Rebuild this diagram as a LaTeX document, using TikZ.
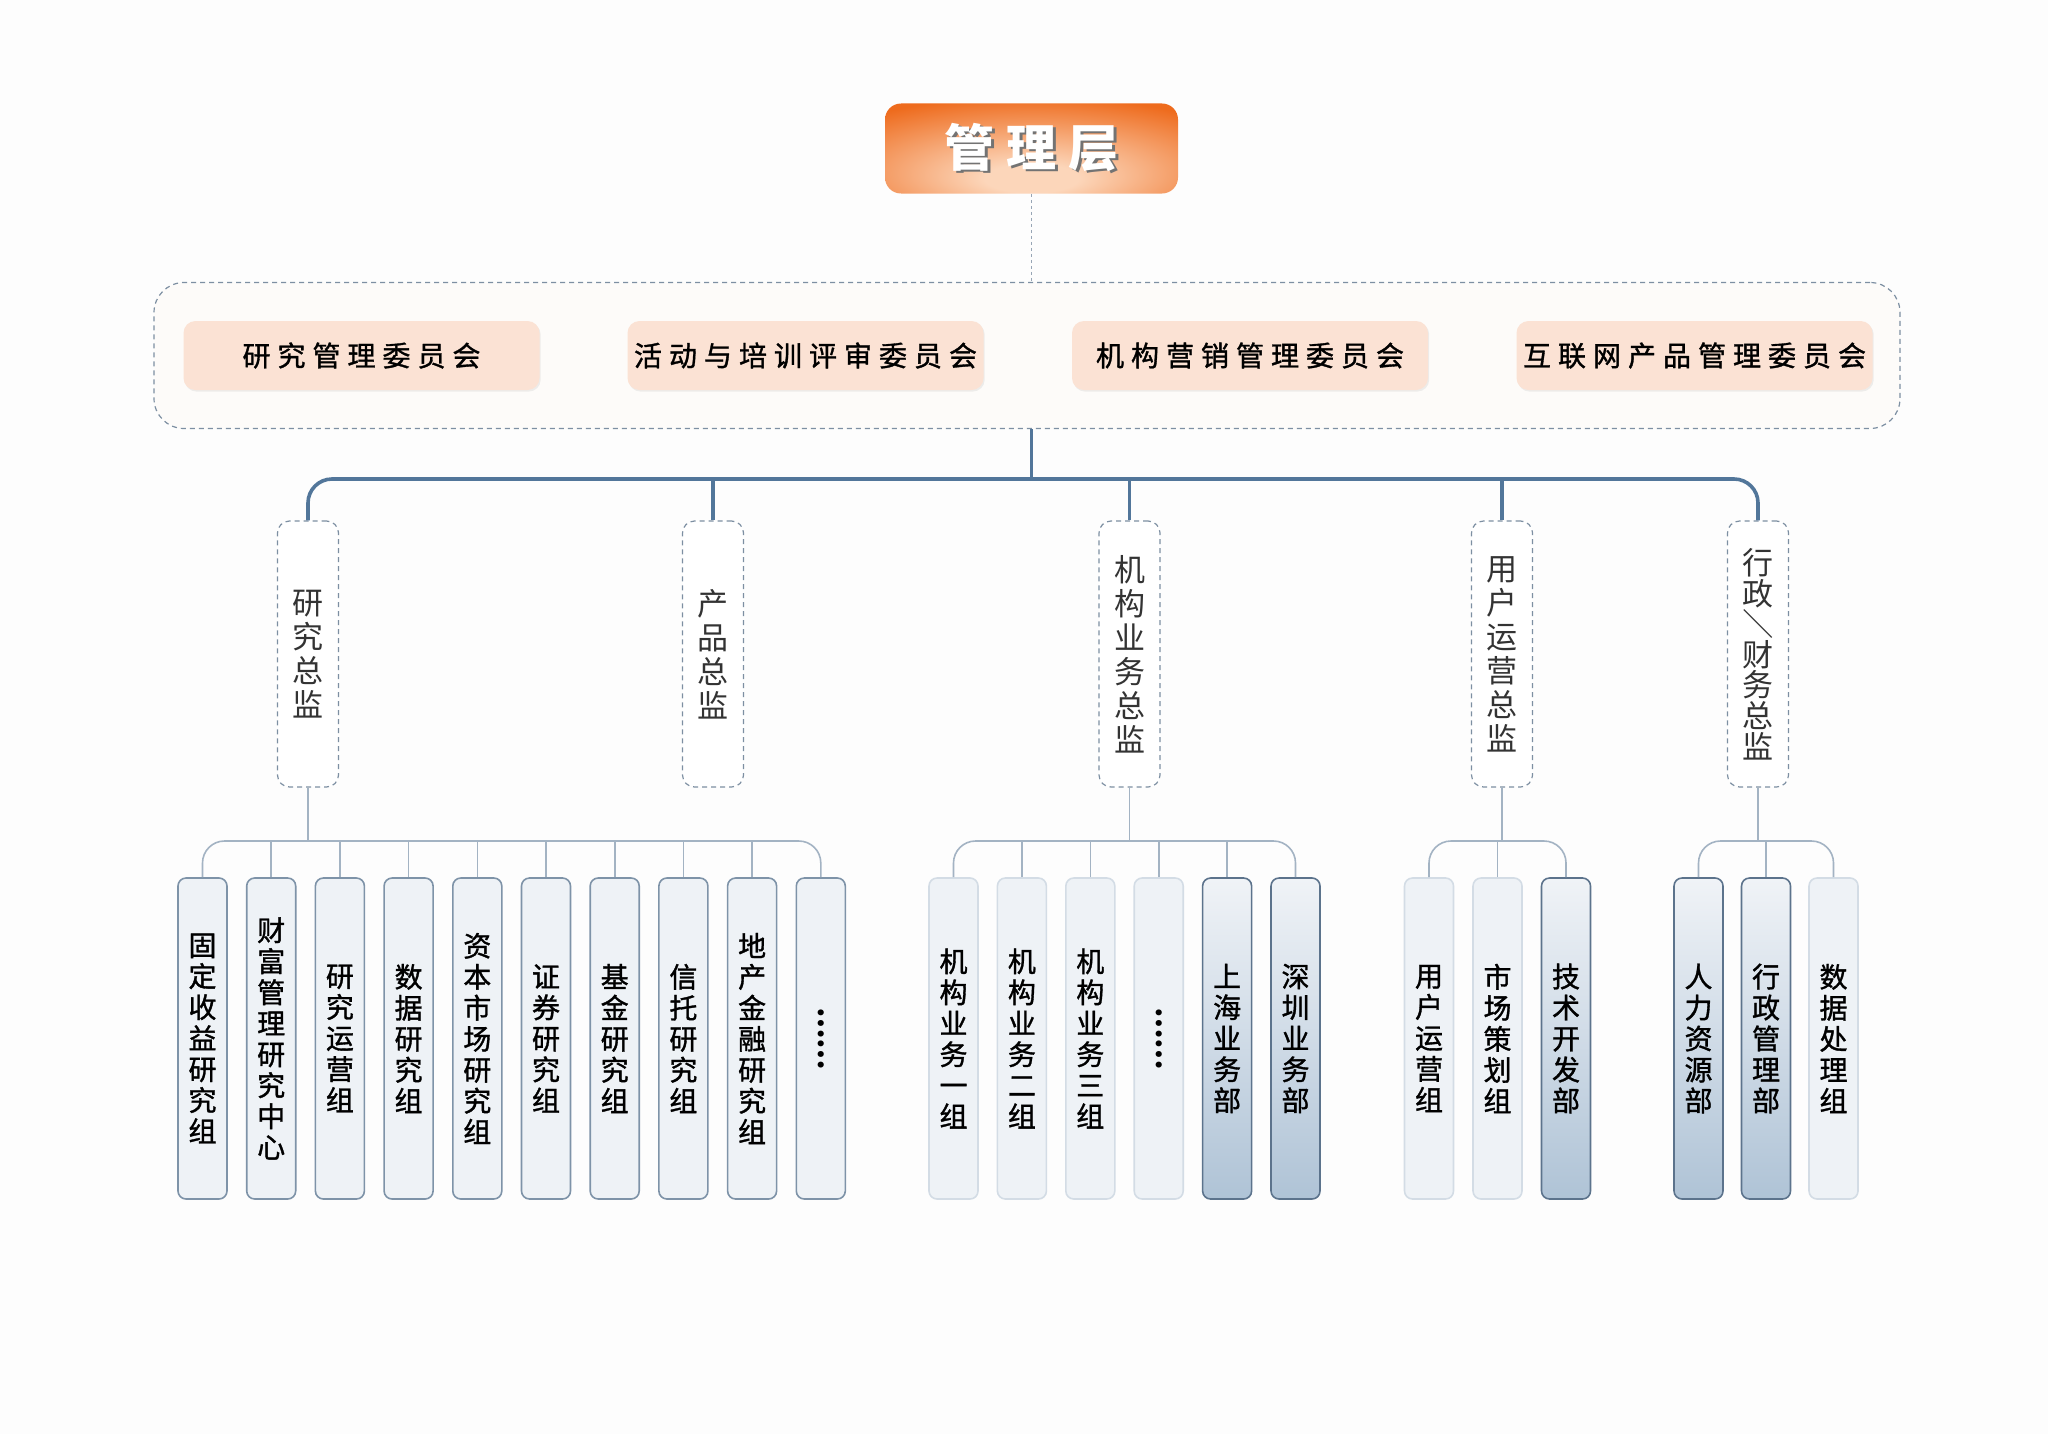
\documentclass[tikz,border=0pt]{standalone}
\usepackage{fontspec}
\usepackage{graphicx}
\newfontfamily\cjk{Noto Sans CJK SC}
\newfontfamily\cjkb[FakeBold=1.2]{Noto Sans CJK SC}
\usetikzlibrary{shadows,calc}
\definecolor{bgc}{HTML}{FDFDFD}
\definecolor{dashc}{HTML}{7D8FA2}
\definecolor{trunkc}{HTML}{52769A}
\definecolor{treec}{HTML}{A3B3C3}
\definecolor{commfill}{HTML}{FBE2D4}
\definecolor{contfill}{HTML}{FDFBF9}
\definecolor{lboxfill}{HTML}{EEF2F6}
\definecolor{lboxdraw}{HTML}{D3DCE5}
\definecolor{mboxdraw}{HTML}{7E93A8}
\definecolor{dboxdraw}{HTML}{5C738C}
\definecolor{dboxtop}{HTML}{F0F3F7}
\definecolor{dboxbot}{HTML}{AFC3D6}
\definecolor{orL}{HTML}{FCD6BA}
\definecolor{orD}{HTML}{EE6B1D}
\pgfdeclareradialshading{orglow}{\pgfpoint{0bp}{-18bp}}{color(0bp)=(orL); color(8bp)=(orL); color(40bp)=(orD); color(100bp)=(orD)}
\newlength\lspamt
\def\lspx#1{#1\lspaux}
\def\lspaux#1{\ifx#1\relax\else\hspace{\lspamt}#1\expandafter\lspaux\fi}
\newcommand\shadowtxt[1]{\makebox[0pt][l]{\hspace{1.3pt}\raisebox{-1.3pt}{\textcolor{black!55}{#1}}}#1}
\begin{document}
\begin{tikzpicture}[x=0.5pt,y=-0.5pt,
  topbox/.style={shade, shading=orglow, rounded corners=8pt, minimum width=146.5pt, minimum height=45pt, inner sep=0pt, text=white, font=\cjk\bfseries\fontsize{25}{28}\selectfont},
  container/.style={draw=dashc, dash pattern=on 2.5pt off 2pt, line width=0.6pt, rounded corners=15pt, fill=contfill, minimum width=873pt, minimum height=73pt},
  commbox/.style={fill=commfill, rounded corners=6pt, minimum width=178pt, minimum height=34.5pt, inner sep=0pt, font=\cjkb\fontsize{14}{16}\selectfont, drop shadow={shadow xshift=0.6pt, shadow yshift=-0.8pt, opacity=0.12}},
  dirbox/.style={draw=dashc, dash pattern=on 2.5pt off 2pt, line width=0.6pt, rounded corners=6pt, fill=white, minimum width=30.5pt, minimum height=133pt, inner sep=0pt, align=center, text=black!80, font=\cjk\fontsize{15.5}{17}\selectfont},
  leaf/.style={rounded corners=4pt, minimum width=24.5pt, minimum height=160.5pt, inner sep=0pt, align=center, line width=0.8pt, font=\cjkb\fontsize{14}{15.5}\selectfont},
  mleaf/.style={leaf, draw=mboxdraw, fill=lboxfill},
  lleaf/.style={leaf, draw=lboxdraw, fill=lboxfill},
  dleaf/.style={leaf, draw=dboxdraw, top color=dboxtop, bottom color=dboxbot},
  dotsnode/.style={rotate=-90, inner sep=0pt, font=\cjk\bfseries\fontsize{14}{14}\selectfont},
  trunk/.style={draw=trunkc, line width=1.8pt, rounded corners=12pt},
  tree/.style={draw=treec, line width=0.8pt, rounded corners=11pt},
  thindash/.style={draw=dashc!80, dash pattern=on 1.5pt off 1.5pt, line width=0.5pt}
]
\fill[bgc] (0,0) rectangle (2048,1434);
\useasboundingbox (0,0) rectangle (2048,1434);

% top
\node[topbox] (mgmt) at (1031.5,148.5) {\shadowtxt{\setlength\lspamt{6pt}\lspx 管理层\relax}};

% committees
\node[container] (comm) at (1027,355.5) {};
\node[commbox] (c1) at (361.5,355.5) {\setlength\lspamt{3.5pt}\lspx 研究管理委员会\relax};
\node[commbox] (c2) at (805.5,355.5) {\setlength\lspamt{3.5pt}\lspx 活动与培训评审委员会\relax};
\node[commbox] (c3) at (1250,355.5) {\setlength\lspamt{3.5pt}\lspx 机构营销管理委员会\relax};
\node[commbox] (c4) at (1694.5,355.5) {\setlength\lspamt{3.5pt}\lspx 互联网产品管理委员会\relax};

\draw[thindash] (mgmt.south) -- (mgmt.south |- comm.north);

% directors
\node[dirbox] (d1) at (308,654) {研\\究\\总\\监};
\node[dirbox] (d2) at (713,654) {产\\品\\总\\监};
\node[dirbox] (d3) at (1129.5,654) {机\\构\\业\\务\\总\\监};
\node[dirbox] (d4) at (1502,654) {用\\户\\运\\营\\总\\监};
\node[dirbox, font=\cjk\fontsize{15.5}{15.3}\selectfont] (d5) at (1758,654) {行\\政\\\rotatebox[origin=c]{-90}{／}\\财\\务\\总\\监};

\coordinate (hub) at (1031.5,479);
\draw[trunk] (mgmt.south |- comm.south) -- (hub);
\draw[trunk] (d1.north) -- (d1.north |- hub) -- (d5.north |- hub) -- (d5.north);
\foreach \n in {d2,d3,d4} \draw[trunk] (\n.north) -- (\n.north |- hub);

% leaves
\coordinate (ty) at (0,841);
\node[mleaf] (a1) at (202.5,1038.5) {固\\定\\收\\益\\研\\究\\组};
\node[mleaf] (a2) at (271.2,1038.5) {财\\富\\管\\理\\研\\究\\中\\心};
\node[mleaf] (a3) at (339.9,1038.5) {研\\究\\运\\营\\组};
\node[mleaf] (a4) at (408.6,1038.5) {数\\据\\研\\究\\组};
\node[mleaf] (a5) at (477.3,1038.5) {资\\本\\市\\场\\研\\究\\组};
\node[mleaf] (a6) at (546.0,1038.5) {证\\券\\研\\究\\组};
\node[mleaf] (a7) at (614.7,1038.5) {基\\金\\研\\究\\组};
\node[mleaf] (a8) at (683.4,1038.5) {信\\托\\研\\究\\组};
\node[mleaf] (a9) at (752.1,1038.5) {地\\产\\金\\融\\研\\究\\组};
\node[mleaf] (a10) at (820.8,1038.5) {};
\node[dotsnode] (a10d) at (a10.center) {……};

\node[lleaf] (b1) at (953.5,1038.5) {机\\构\\业\\务\\一\\组};
\node[lleaf] (b2) at (1021.9,1038.5) {机\\构\\业\\务\\二\\组};
\node[lleaf] (b3) at (1090.3,1038.5) {机\\构\\业\\务\\三\\组};
\node[lleaf] (b4) at (1158.7,1038.5) {};
\node[dotsnode] (b4d) at (b4.center) {……};
\node[dleaf] (b5) at (1227.1,1038.5) {上\\海\\业\\务\\部};
\node[dleaf] (b6) at (1295.5,1038.5) {深\\圳\\业\\务\\部};

\node[lleaf] (u1) at (1429,1038.5) {用\\户\\运\\营\\组};
\node[lleaf] (u2) at (1497.5,1038.5) {市\\场\\策\\划\\组};
\node[dleaf] (u3) at (1566,1038.5) {技\\术\\开\\发\\部};

\node[dleaf] (e1) at (1698.5,1038.5) {人\\力\\资\\源\\部};
\node[dleaf] (e2) at (1766,1038.5) {行\\政\\管\\理\\部};
\node[lleaf] (e3) at (1833.5,1038.5) {数\\据\\处\\理\\组};

% trees
\draw[tree] (a1.north) -- (a1.north |- ty) -- (a10.north |- ty) -- (a10.north);
\foreach \n in {a2,a3,a4,a5,a6,a7,a8,a9} \draw[tree] (\n.north) -- (\n.north |- ty);
\draw[tree] (d1.south) -- (d1.south |- ty);

\draw[tree] (b1.north) -- (b1.north |- ty) -- (b6.north |- ty) -- (b6.north);
\foreach \n in {b2,b3,b4,b5} \draw[tree] (\n.north) -- (\n.north |- ty);
\draw[tree] (d3.south) -- (d3.south |- ty);

\draw[tree] (u1.north) -- (u1.north |- ty) -- (u3.north |- ty) -- (u3.north);
\draw[tree] (u2.north) -- (u2.north |- ty);
\draw[tree] (d4.south) -- (d4.south |- ty);

\draw[tree] (e1.north) -- (e1.north |- ty) -- (e3.north |- ty) -- (e3.north);
\draw[tree] (e2.north) -- (e2.north |- ty);
\draw[tree] (d5.south) -- (d5.south |- ty);
\end{tikzpicture}
\end{document}
